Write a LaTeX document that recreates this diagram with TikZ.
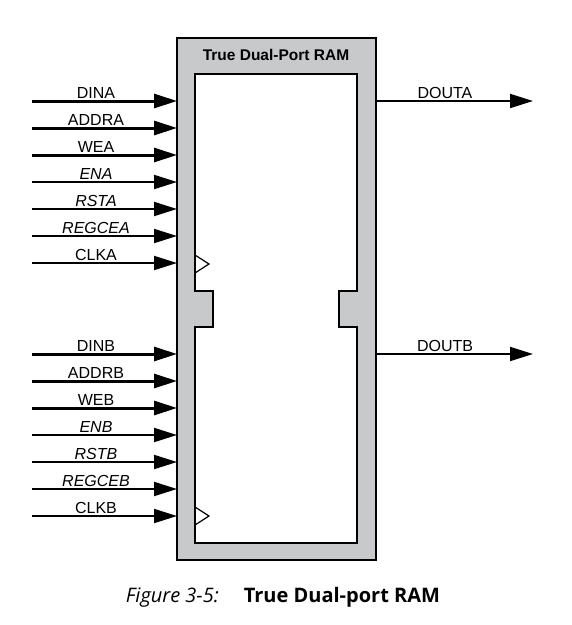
\documentclass[tikz,border=0pt]{standalone}
\usepackage{fontspec}
\setmainfont{Liberation Sans}
\newfontfamily\capfont{Open Sans}
\usetikzlibrary{arrows.meta}
\definecolor{bodygray}{RGB}{200,201,203}
\begin{document}
\begin{tikzpicture}[x=1pt,y=-1pt,
  pin/.style={line width=2pt,-{Triangle[length=23pt,width=14pt]}},
  bus/.style={pin,line width=3pt},
  lbl/.style={font=\fontsize{16}{16}\selectfont,anchor=base,inner sep=0pt}]
\useasboundingbox (0,0) rectangle (572,625);
% body of the RAM
\draw[fill=bodygray,line width=1.5pt] (177,38) rectangle (376,560);
\draw[fill=white,line width=1.5pt] (195,74) -- (357,74) -- (357,291) -- (339,291)
  -- (339,327) -- (357,327) -- (357,543) -- (195,543) -- (195,327) -- (213,327)
  -- (213,291) -- (195,291) -- cycle;
\node[font=\fontsize{15.5}{15.5}\selectfont\bfseries,anchor=base] (title) at (276,60.5) {True Dual-Port RAM};
% clock marks
\draw[line width=1.2pt] (195,255) -- (209,264) -- (195,273);
\draw[line width=1.2pt] (195,507) -- (209,516) -- (195,525);
% port A and port B inputs
\foreach \nm/\txt/\y/\st in {dina/DINA/101/bus, addra/ADDRA/128/bus, wea/WEA/155/bus,
  ena/{\itshape ENA}/182/pin, rsta/{\itshape RSTA}/209/pin, regcea/{\itshape REGCEA}/236/pin,
  clka/CLKA/263/pin,
  dinb/DINB/354/bus, addrb/ADDRB/381/bus, web/WEB/408/bus,
  enb/{\itshape ENB}/435/pin, rstb/{\itshape RSTB}/462/pin, regceb/{\itshape REGCEB}/489/pin,
  clkb/CLKB/516/pin}{
  \coordinate (\nm-in) at (32,\y);
  \coordinate (\nm-pin) at (177,\y);
  \draw[\st] (\nm-in) -- (\nm-pin);
  \node[lbl] (\nm-lbl) at (96,\y-3) {\txt};
}
% outputs
\foreach \nm/\txt/\y in {douta/DOUTA/101, doutb/DOUTB/354}{
  \coordinate (\nm-pin) at (376,\y);
  \coordinate (\nm-out) at (533,\y);
  \draw[pin] (\nm-pin) -- (\nm-out);
  \node[lbl] (\nm-lbl) at (445,\y-3) {\txt};
}
% caption
\node[font=\capfont\fontsize{20}{20}\selectfont,anchor=base] (caption) at (283,602)
  {\itshape Figure 3-5:\hspace{25pt}\upshape\bfseries True Dual-port RAM};
\end{tikzpicture}
\end{document}
